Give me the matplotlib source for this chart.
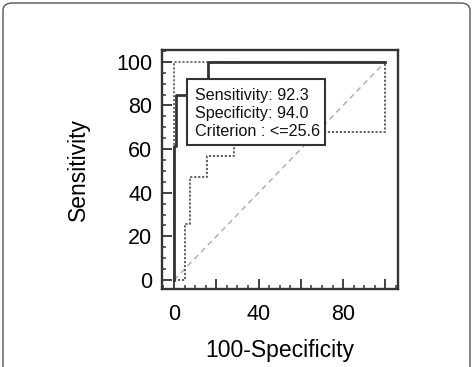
import matplotlib
matplotlib.use("Agg")
import matplotlib.pyplot as plt
from matplotlib.patches import FancyBboxPatch, Rectangle
from matplotlib.ticker import FixedLocator, MultipleLocator

plt.rcParams['font.family'] = ['Liberation Sans', 'DejaVu Sans']

# ROC curves (x = 100-Specificity, y = Sensitivity)
roc_main_x = [0, 0, 1, 1, 6, 6, 16, 16, 100]
roc_main_y = [0, 61.5, 61.5, 84.6, 84.6, 92.3, 92.3, 100, 100]

roc_low_x = [0, 5, 5, 7.6, 7.6, 15.6, 15.6, 28.4, 28.4, 100, 100]
roc_low_y = [0, 0, 25.5, 25.5, 47, 47, 57, 57, 68, 68, 100]

roc_top_x = [0, 0, 100]
roc_top_y = [0, 100, 100]

x_ticks = [0, 20, 40, 60, 80, 100]
x_ticklabels = ['0', '', '40', '', '80', '']
y_ticks = [0, 20, 40, 60, 80, 100]

box_text = "Sensitivity: 92.3\nSpecificity: 94.0\nCriterion : <=25.6"

fig = plt.figure(figsize=(4.74, 3.67), dpi=100)

# outer rounded frame
frame = FancyBboxPatch((3 / 474, -0.1), 467 / 474, 1.1 - 3 / 367,
                       boxstyle="round,pad=0,rounding_size=0.02",
                       transform=fig.transFigure, fill=False,
                       edgecolor='#555555', linewidth=1.0)
fig.patches.append(frame)

ax = fig.add_axes([162 / 474, 1 - 289 / 367, 236 / 474, 239 / 367])

ax.plot([0, 100], [0, 100], color='#aaaaaa', linestyle=(0, (4, 3)), linewidth=1.0)
ax.plot(roc_top_x, roc_top_y, color='#666666', linestyle=(0, (1.2, 1.0)), linewidth=1.3)
ax.plot(roc_low_x, roc_low_y, color='#555555', linestyle=(0, (1.2, 1.0)), linewidth=1.3)
ax.plot(roc_main_x, roc_main_y, color='#333333', linewidth=2.0)

ax.set_xlim(-5.7, 106)
ax.set_ylim(-4.1, 105.4)

ax.xaxis.set_major_locator(FixedLocator(x_ticks))
ax.set_xticklabels(x_ticklabels)
ax.xaxis.set_minor_locator(MultipleLocator(5))
ax.yaxis.set_major_locator(FixedLocator(y_ticks))
ax.yaxis.set_minor_locator(MultipleLocator(5))

ax.tick_params(which='major', direction='in', length=7, width=1.3,
               color='#333333', labelsize=15.5, pad=7)
ax.tick_params(which='minor', direction='in', length=3, width=1.1, color='#333333')
ax.tick_params(axis='x', which='major', pad=11)

for s in ax.spines.values():
    s.set_linewidth(1.7)
    s.set_color('#333333')

ax.set_xlabel("100-Specificity", fontsize=16.5, labelpad=10)
ax.set_ylabel("Sensitivity", fontsize=16.5, labelpad=19)

# annotation box
ax.add_patch(Rectangle((6, 61.9), 65.6, 30.2, facecolor='white',
                       edgecolor='#333333', linewidth=1.5, zorder=5))
ax.text(9.8, 76.5, box_text, fontsize=11.6, linespacing=1.25,
        ha='left', va='center', zorder=6, color='#111111')

fig.savefig("out.png", dpi=100)
